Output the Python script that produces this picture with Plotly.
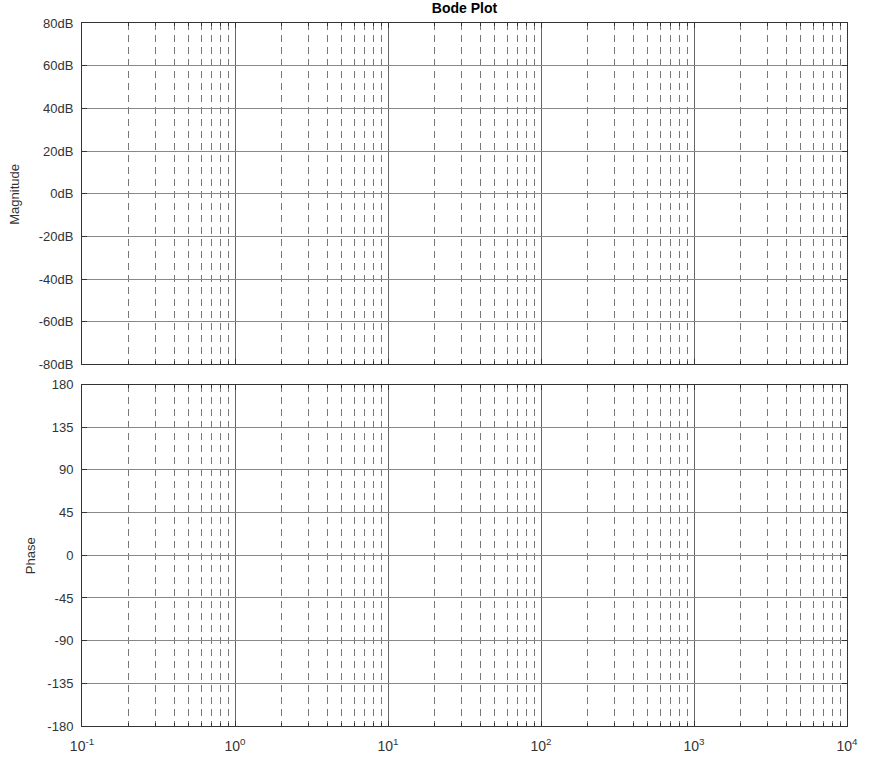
import plotly.graph_objects as go
from plotly.subplots import make_subplots

# axis values (empty Bode plot, only grid)
freq_decades = [0.1, 1, 10, 100, 1000, 10000]
freq_labels = ["10<sup>-1</sup>", "10<sup>0</sup>", "10<sup>1</sup>",
               "10<sup>2</sup>", "10<sup>3</sup>", "10<sup>4</sup>"]
mag_ticks = [-80, -60, -40, -20, 0, 20, 40, 60, 80]
mag_labels = [f"{v}dB" for v in mag_ticks]
phase_ticks = [-180, -135, -90, -45, 0, 45, 90, 135, 180]
phase_labels = [str(v) for v in phase_ticks]

fig = make_subplots(rows=2, cols=1, shared_xaxes=True, vertical_spacing=0.0285)

# invisible traces so both axes get drawn
fig.add_trace(go.Scatter(x=[freq_decades[0], freq_decades[-1]], y=[mag_ticks[0], mag_ticks[-1]],
                         mode="lines", line=dict(width=0), hoverinfo="skip", showlegend=False), row=1, col=1)
fig.add_trace(go.Scatter(x=[freq_decades[0], freq_decades[-1]], y=[phase_ticks[0], phase_ticks[-1]],
                         mode="lines", line=dict(width=0), hoverinfo="skip", showlegend=False), row=2, col=1)

font_name = "Liberation Sans, Arial"
axis_font = dict(family=font_name, size=13, color="#333")

xcommon = dict(type="log", range=[-1, 4], automargin=False,
               tickvals=freq_decades, ticks="inside", ticklen=5, tickcolor="#333",
               showline=True, linecolor="#333", linewidth=1, mirror="allticks",
               showgrid=True, gridcolor="#666", gridwidth=1, zeroline=False,
               minor=dict(dtick="D1", ticks="inside", ticklen=3, tickcolor="#333",
                          showgrid=True, gridcolor="#777", griddash="7px,5px", gridwidth=1),
               ticklabelstandoff=7,
               tickfont=dict(family=font_name, size=14, color="#333"))

fig.update_xaxes(**xcommon, showticklabels=False, row=1, col=1)
fig.update_xaxes(**xcommon, ticktext=freq_labels, showticklabels=True, row=2, col=1)

ycommon = dict(ticks="inside", ticklen=5, tickcolor="#333", automargin=False,
               showline=True, linecolor="#333", linewidth=1, mirror="allticks",
               showgrid=True, gridcolor="#888", gridwidth=1, zeroline=False,
               ticklabelstandoff=5, tickfont=axis_font)

fig.update_yaxes(**ycommon, range=[-80, 80], tickvals=mag_ticks, ticktext=mag_labels, row=1, col=1)
fig.update_yaxes(**ycommon, range=[-180, 180], tickvals=phase_ticks, ticktext=phase_labels, row=2, col=1)

# y axis titles placed like the reference
fig.add_annotation(text="Magnitude", xref="paper", yref="y domain", x=-0.0876, y=0.5,
                   textangle=-90, showarrow=False, xanchor="center", yanchor="middle",
                   font=dict(family=font_name, size=13, color="#333"))
fig.add_annotation(text="Phase", xref="paper", yref="y2 domain", x=-0.068, y=0.5,
                   textangle=-90, showarrow=False, xanchor="center", yanchor="middle",
                   font=dict(family=font_name, size=13, color="#333"))

fig.update_layout(
    width=873, height=766,
    margin=dict(l=82, r=26, t=23, b=40),
    plot_bgcolor="white", paper_bgcolor="white",
    title=dict(text="<b>Bode Plot</b>", x=0.5, xanchor="center", xref="paper",
               y=0.9895, yanchor="middle", pad=dict(t=0, b=0),
               font=dict(family=font_name, size=14, color="black")),
    showlegend=False,
)

# drop the page's default body margin so the figure sits at the window corner
fig.write_html("out.html", config={"displayModeBar": False},
               post_script="document.body.style.margin='0';")
